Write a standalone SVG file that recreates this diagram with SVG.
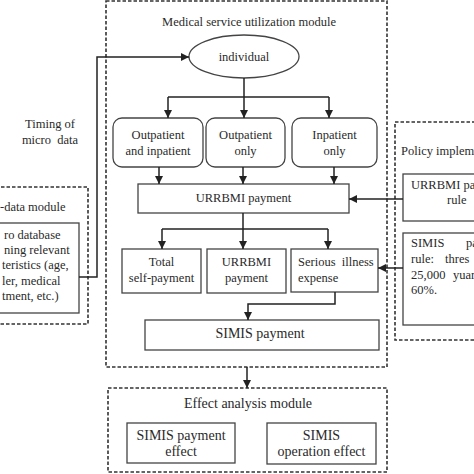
<svg xmlns="http://www.w3.org/2000/svg" width="474" height="474" viewBox="0 0 474 474">
<style>
text{font-family:"Liberation Serif","Times New Roman",serif;fill:#2a2a2a;font-size:12.5px}
.big{font-size:14px}
.mod{fill:none;stroke:#333;stroke-width:1.6;stroke-dasharray:3.5 2}
.box{fill:#fff;stroke:#444;stroke-width:1.3}
.c{text-anchor:middle}
.ln{fill:none;stroke:#222;stroke-width:1.5}
</style>
<defs>
<marker id="ah" viewBox="0 0 10 10" refX="10" refY="5" markerWidth="8" markerHeight="8" markerUnits="userSpaceOnUse" orient="auto">
<path d="M0,0 L10,5 L0,10 z" fill="#222"/>
</marker>
</defs>
<rect width="474" height="474" fill="#fff"/>

<g id="medical-module">
<rect class="mod" x="106" y="1" width="281" height="366"/>
<text class="c" x="249" y="26">Medical service utilization module</text>
</g>
<g id="micro-module">
<rect class="mod" x="-10" y="187" width="98" height="137"/>
<text x="0" y="211">-data module</text>
</g>
<g id="policy-module">
<rect class="mod" x="395" y="122" width="90" height="218"/>
<text x="401" y="155">Policy implem</text>
</g>
<g id="effect-module">
<rect class="mod" x="108" y="388" width="279" height="84"/>
<text class="c big" x="248" y="408">Effect analysis module</text>
</g>

<g id="timing-label">
<text class="c" x="50" y="128">Timing of</text>
<text class="c" x="50" y="144" xml:space="preserve">micro  data</text>
</g>

<g id="micro-db">
<rect class="box" x="-10" y="223" width="89" height="90"/>
<text x="4" y="239">ro database</text>
<text x="4" y="254">ning relevant</text>
<text x="2" y="269">teristics (age,</text>
<text x="2" y="285">ler, medical</text>
<text x="2" y="300">tment, etc.)</text>
</g>

<g id="individual">
<ellipse cx="244" cy="56.5" rx="55" ry="21.5" fill="#fff" stroke="#444" stroke-width="1.3"/>
<text class="c" x="244" y="61">individual</text>
</g>

<g id="out-in">
<rect class="box" x="113" y="118" width="90" height="49" rx="9"/>
<text class="c" x="158" y="139">Outpatient</text>
<text class="c" x="158" y="155">and inpatient</text>
</g>
<g id="out-only">
<rect class="box" x="206" y="118" width="79" height="49" rx="9"/>
<text class="c" x="245.5" y="139">Outpatient</text>
<text class="c" x="245.5" y="155">only</text>
</g>
<g id="in-only">
<rect class="box" x="292" y="118" width="85" height="49" rx="9"/>
<text class="c" x="334.5" y="139">Inpatient</text>
<text class="c" x="334.5" y="155">only</text>
</g>

<g id="urrbmi-payment">
<rect class="box" x="138" y="184" width="211" height="29"/>
<text class="c" x="243.5" y="202">URRBMI payment</text>
</g>

<g id="total-self">
<rect class="box" x="122" y="249" width="79" height="44"/>
<text class="c" x="161.5" y="266">Total</text>
<text class="c" x="161.5" y="282">self-payment</text>
</g>
<g id="urrbmi-pay2">
<rect class="box" x="207" y="249" width="79" height="44"/>
<text class="c" x="246.5" y="266">URRBMI</text>
<text class="c" x="246.5" y="282">payment</text>
</g>
<g id="serious">
<rect class="box" x="291" y="249" width="87" height="43"/>
<text x="298" y="266" xml:space="preserve">Serious  illness</text>
<text x="298" y="282">expense</text>
</g>

<g id="simis-payment">
<rect class="box" x="145" y="320" width="234" height="30"/>
<text class="c big" x="260" y="338">SIMIS payment</text>
</g>

<g id="urrbmi-rule">
<rect class="box" x="403" y="174" width="80" height="47"/>
<text x="411" y="189">URRBMI pa</text>
<text x="447" y="204">rule</text>
</g>
<g id="simis-rule">
<rect class="box" x="403" y="233" width="80" height="92"/>
<text x="411" y="247">SIMIS</text>
<text x="466" y="247">pa</text>
<text x="411" y="263">rule:</text>
<text x="445" y="263">thres</text>
<text x="411" y="279">25,000</text>
<text x="453" y="279">yuar</text>
<text x="411" y="294">60%.</text>
</g>

<g id="effect-pay">
<rect class="box" x="127" y="423" width="108" height="40"/>
<text class="c big" x="181" y="440">SIMIS payment</text>
<text class="c big" x="181" y="456">effect</text>
</g>
<g id="effect-op">
<rect class="box" x="267" y="423" width="109" height="41"/>
<text class="c big" x="321.5" y="440">SIMIS</text>
<text class="c big" x="321.5" y="456">operation effect</text>
</g>

<g id="connectors">
<path class="ln" d="M79,277 H97 V57 H189" marker-end="url(#ah)"/>
<path class="ln" d="M244,78 V118" marker-end="url(#ah)"/>
<path class="ln" d="M168,97 H329"/>
<path class="ln" d="M168,97 V118" marker-end="url(#ah)"/>
<path class="ln" d="M329,97 V118" marker-end="url(#ah)"/>
<path class="ln" d="M159,167 V184" marker-end="url(#ah)"/>
<path class="ln" d="M243,167 V184" marker-end="url(#ah)"/>
<path class="ln" d="M334,167 V184" marker-end="url(#ah)"/>
<path class="ln" d="M403,199 H349" marker-end="url(#ah)"/>
<path class="ln" d="M243,213 V249" marker-end="url(#ah)"/>
<path class="ln" d="M162,229 H328"/>
<path class="ln" d="M162,229 V249" marker-end="url(#ah)"/>
<path class="ln" d="M328,229 V249" marker-end="url(#ah)"/>
<path class="ln" d="M403,268 H378" marker-end="url(#ah)"/>
<path class="ln" d="M335,292 V304 H248 V320" marker-end="url(#ah)"/>
<path class="ln" d="M247,367 V388" marker-end="url(#ah)"/>
</g>
</svg>
